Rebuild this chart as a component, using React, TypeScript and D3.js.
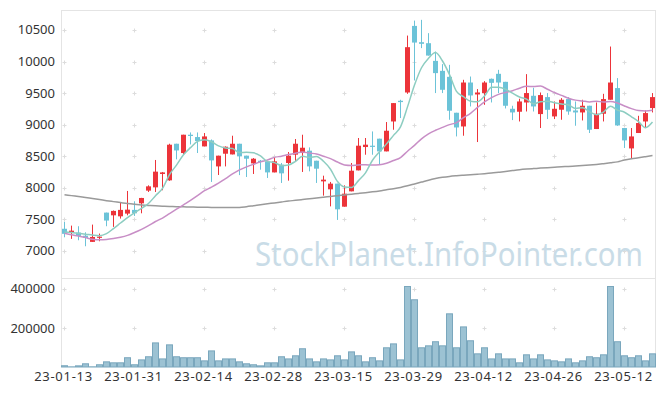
import React, { useEffect, useRef } from 'react';
import * as d3 from 'd3';

// trading days 23-01-13 .. 23-05-18
const dates = [
  '23-01-13', '23-01-16', '23-01-17', '23-01-18', '23-01-19', '23-01-20', '23-01-25', '23-01-26', '23-01-27', '23-01-30',
  '23-01-31', '23-02-01', '23-02-02', '23-02-03', '23-02-06', '23-02-07', '23-02-08', '23-02-09', '23-02-10', '23-02-13',
  '23-02-14', '23-02-15', '23-02-16', '23-02-17', '23-02-20', '23-02-21', '23-02-22', '23-02-23', '23-02-24', '23-02-27',
  '23-02-28', '23-03-02', '23-03-03', '23-03-06', '23-03-07', '23-03-08', '23-03-09', '23-03-10', '23-03-13', '23-03-14',
  '23-03-15', '23-03-16', '23-03-17', '23-03-20', '23-03-21', '23-03-22', '23-03-23', '23-03-24', '23-03-27', '23-03-28',
  '23-03-29', '23-03-30', '23-03-31', '23-04-03', '23-04-04', '23-04-05', '23-04-06', '23-04-07', '23-04-10', '23-04-11',
  '23-04-12', '23-04-13', '23-04-14', '23-04-17', '23-04-18', '23-04-19', '23-04-20', '23-04-21', '23-04-24', '23-04-25',
  '23-04-26', '23-04-27', '23-04-28', '23-05-02', '23-05-03', '23-05-04', '23-05-08', '23-05-09', '23-05-10', '23-05-11',
  '23-05-12', '23-05-15', '23-05-16', '23-05-17', '23-05-18',
];

const open = [
  7350, 7295, 7290, 7240, 7142, 7215, 7606, 7563, 7547, 7590,
  7649, 7753, 7954, 8006, 8218, 8117, 8697, 8550, 8840, 8803,
  8655, 8750, 8338, 8539, 8528, 8697, 8508, 8386, 8428, 8418,
  8243, 8365, 8392, 8524, 8550, 8587, 8428, 8101, 7975, 8065,
  7700, 7943, 8275, 8645, 8666, 8777, 8576, 9050, 9378, 9509,
  10564, 10306, 10290, 10010, 9852, 9757, 9188, 8971, 9667, 9478,
  9500, 9726, 9805, 9678, 9251, 9204, 9351, 9457, 9167, 9436,
  9130, 9236, 9405, 9224, 9193, 9299, 8930, 9172, 9394, 9579,
  8946, 8623, 8867, 9050, 9262,
];
const high = [
  7460, 7400, 7390, 7294, 7416, 7274, 7606, 7640, 7769, 7949,
  7785, 7840, 8038, 8440, 8250, 8697, 8697, 8840, 8876, 8876,
  8867, 8765, 8508, 8655, 8824, 8697, 8508, 8470, 8440, 8418,
  8471, 8392, 8566, 8772, 8840, 8639, 8428, 8191, 8092, 8065,
  8038, 8392, 8788, 8788, 8892, 8777, 9041, 9341, 9394, 10411,
  10648, 10660, 10449, 10158, 9958, 9947, 9188, 9710, 9762, 9563,
  9689, 9730, 9868, 9678, 9299, 9410, 9800, 9584, 9509, 9500,
  9367, 9420, 9436, 9367, 9394, 9299, 9351, 9488, 10237, 9737,
  8946, 8946, 9140, 9225, 9500,
];
const low = [
  7215, 7190, 7168, 7073, 7142, 7152, 7390, 7380, 7511, 7563,
  7553, 7595, 7933, 7933, 7960, 8110, 8450, 8535, 8686, 8550,
  8655, 8092, 8202, 8338, 8528, 8200, 8170, 8218, 8286, 8155,
  8243, 8076, 8112, 8408, 8250, 8260, 8076, 7875, 7705, 7490,
  7700, 7943, 8275, 8523, 8523, 8365, 8576, 8919, 9104, 9488,
  9700, 10212, 10094, 9500, 9500, 9077, 8813, 8824, 9288, 8724,
  9314, 9351, 9500, 9256, 9072, 9050, 9208, 9208, 8946, 9088,
  9088, 9077, 9156, 8982, 9066, 8867, 8930, 9050, 9394, 8980,
  8630, 8460, 8867, 8962, 9193,
];
const close = [
  7270, 7320, 7237, 7205, 7220, 7225, 7480, 7633, 7649, 7653,
  7595, 7838, 8022, 8255, 8243, 8682, 8591, 8840, 8820, 8740,
  8813, 8433, 8508, 8650, 8697, 8497, 8460, 8460, 8408, 8243,
  8418, 8228, 8508, 8697, 8634, 8338, 8302, 8128, 8065, 7658,
  7906, 8270, 8666, 8682, 8650, 8576, 8903, 9341, 9357, 10227,
  10300, 10280, 10094, 9816, 9552, 9220, 8955, 9667, 9462, 9509,
  9667, 9662, 9667, 9299, 9193, 9367, 9500, 9288, 9468, 9235,
  9251, 9394, 9208, 9193, 9299, 8919, 9172, 9405, 9667, 8987,
  8750, 8813, 9025, 9183, 9436,
];
const volume = [
  9000, 3400, 8500, 19000, 3500, 14000, 29000, 24000, 24000, 50000,
  14000, 39000, 55000, 126000, 44000, 116000, 55000, 50000, 50000, 50000,
  34000, 85000, 34000, 44000, 44000, 29000, 19000, 14000, 8500, 24000,
  24000, 55000, 44000, 60000, 96000, 44000, 29000, 44000, 39000, 60000,
  39000, 80000, 60000, 29000, 50000, 34000, 101000, 121000, 39000, 415000,
  347000, 101000, 111000, 132000, 111000, 275000, 101000, 208000, 137000, 70000,
  101000, 44000, 70000, 44000, 44000, 24000, 65000, 44000, 65000, 39000,
  34000, 29000, 44000, 24000, 34000, 55000, 50000, 65000, 415000, 132000,
  60000, 50000, 60000, 34000, 70000,
];

// moving averages
const ma5 = [
  7300, 7290, 7278, 7265, 7250, 7241, 7273, 7353, 7441, 7528,
  7602, 7674, 7751, 7873, 7991, 8208, 8359, 8522, 8635, 8735,
  8761, 8729, 8663, 8629, 8620, 8557, 8562, 8553, 8504, 8414,
  8398, 8351, 8361, 8419, 8497, 8481, 8496, 8420, 8293, 8098,
  8012, 8005, 8113, 8236, 8435, 8569, 8695, 8830, 8965, 9281,
  9626, 9901, 10052, 10143, 10008, 9792, 9527, 9442, 9371, 9363,
  9452, 9593, 9593, 9561, 9498, 9438, 9405, 9329, 9363, 9372,
  9348, 9327, 9311, 9256, 9269, 9203, 9158, 9198, 9292, 9230,
  9196, 9124, 9048, 8952, 9041,
];
const ma20 = [
  7280, 7255, 7235, 7210, 7185, 7175, 7180, 7195, 7215, 7245,
  7290, 7340, 7400, 7465, 7520, 7590, 7660, 7730, 7800, 7876,
  7953, 8009, 8072, 8145, 8218, 8282, 8331, 8372, 8410, 8440,
  8481, 8500, 8525, 8547, 8566, 8549, 8535, 8499, 8461, 8407,
  8362, 8354, 8362, 8363, 8361, 8365, 8387, 8431, 8479, 8578,
  8672, 8774, 8854, 8910, 8956, 9000, 9032, 9109, 9179, 9272,
  9360, 9429, 9479, 9510, 9537, 9577, 9607, 9604, 9610, 9560,
  9508, 9463, 9419, 9388, 9375, 9360, 9371, 9358, 9368, 9342,
  9296, 9254, 9222, 9216, 9228,
];
const ma120 = [
  7890, 7875, 7860, 7845, 7828, 7812, 7795, 7780, 7765, 7750,
  7738, 7728, 7720, 7713, 7708, 7704, 7700, 7697, 7694, 7692,
  7690, 7688, 7687, 7686, 7686, 7688, 7700, 7715, 7730, 7745,
  7760, 7775, 7790, 7800, 7812, 7825, 7838, 7850, 7862, 7874,
  7886, 7898, 7910, 7922, 7935, 7950, 7968, 7985, 8005, 8030,
  8060, 8090, 8120, 8145, 8165, 8180, 8190, 8198, 8206, 8214,
  8222, 8232, 8245, 8258, 8272, 8285, 8295, 8303, 8311, 8318,
  8325, 8332, 8338, 8345, 8352, 8360, 8370, 8382, 8395, 8410,
  8440, 8460, 8475, 8492, 8510,
];

const priceTicks = [7000, 7500, 8000, 8500, 9000, 9500, 10000, 10500];
const volumeTicks = [200000, 400000];

const W = 665;
const H = 396;
const left = 61;
const right = 656;
const top = 10;
const split = 278;
const bottom = 367;

const UP = '#ec343a';
const DOWN = '#6cc3d8';
const FONT = '"Noto Sans", sans-serif';

const App: React.FC = () => {
  const ref = useRef<SVGSVGElement>(null);

  useEffect(() => {
    const svg = d3.select(ref.current);
    svg.selectAll('*').remove();

    const idx = d3.range(dates.length);
    const x = d3.scaleBand<number>().domain(idx).range([left, right]).padding(0);
    const bw = x.bandwidth();
    const cx = (i: number) => (x(i) as number) + bw / 2;

    const y = d3.scaleLinear().domain([6570, 10816]).range([split, top]);
    const yv = d3.scaleLinear().domain([0, 456000]).range([bottom, split]);

    // frame
    const frame = svg.append('g').attr('stroke', '#e4e4e4').attr('fill', 'none');
    frame.append('line').attr('x1', left).attr('x2', right).attr('y1', top + 0.5).attr('y2', top + 0.5);
    frame.append('line').attr('x1', left).attr('x2', right).attr('y1', split + 0.5).attr('y2', split + 0.5);
    frame.append('line').attr('x1', left + 0.5).attr('x2', left + 0.5).attr('y1', top).attr('y2', bottom);
    frame.append('line').attr('x1', right - 0.5).attr('x2', right - 0.5).attr('y1', top).attr('y2', bottom);

    // grid crosses
    const tickIdx = idx.filter(i => i % 10 === 0);
    const crossYs = [...priceTicks.map(v => y(v)), ...volumeTicks.map(v => yv(v))];
    const cross = svg.append('g').attr('stroke', '#dcdcdc').attr('stroke-width', 1);
    tickIdx.forEach(i => {
      crossYs.forEach(cy => {
        const px = Math.round(cx(i)) - 0.5;
        const py = Math.round(cy) + 0.5;
        cross.append('line').attr('x1', px - 2).attr('x2', px + 2).attr('y1', py).attr('y2', py);
        cross.append('line').attr('x1', px).attr('x2', px).attr('y1', py - 2).attr('y2', py + 2);
      });
    });

    // watermark, squeezed horizontally to the reference width
    const wm = svg.append('g');
    const wmText = wm.append('text')
      .attr('x', 0)
      .attr('y', 0)
      .attr('font-family', FONT)
      .attr('font-size', 33)
      .attr('fill', '#c9dce7')
      .text('StockPlanet.InfoPointer.com');
    const natural = (wmText.node() as SVGTextElement).getComputedTextLength() || 388;
    wm.attr('transform', `translate(255,266) scale(${388 / natural},1)`);

    // y axis labels
    const axisText = svg.append('g')
      .attr('font-family', FONT)
      .attr('font-size', 13)
      .attr('fill', '#333');
    priceTicks.forEach(v => {
      axisText.append('text').attr('x', 55).attr('y', y(v)).attr('dy', '0.35em')
        .attr('text-anchor', 'end').text(String(v));
    });
    volumeTicks.forEach(v => {
      axisText.append('text').attr('x', 55).attr('y', yv(v)).attr('dy', '0.35em')
        .attr('text-anchor', 'end').text(String(v));
    });
    tickIdx.forEach(i => {
      axisText.append('text').attr('x', cx(i) - 1).attr('y', 381)
        .attr('text-anchor', 'middle').attr('letter-spacing', 0.7).text(dates[i]);
    });

    // volume bars
    svg.append('g')
      .selectAll('rect')
      .data(idx)
      .enter()
      .append('rect')
      .attr('x', i => (x(i) as number) + 0.5)
      .attr('width', bw - 1)
      .attr('y', i => yv(volume[i]) + 0.5)
      .attr('height', i => Math.max(0, bottom - yv(volume[i]) - 0.5))
      .attr('fill', '#9cc2d3')
      .attr('stroke', '#7aa7bd')
      .attr('stroke-width', 1);

    // candles
    const candles = svg.append('g');
    idx.forEach(i => {
      const col = close[i] >= open[i] ? UP : DOWN;
      candles.append('line')
        .attr('x1', cx(i)).attr('x2', cx(i))
        .attr('y1', y(high[i])).attr('y2', y(low[i]))
        .attr('stroke', col).attr('stroke-width', 1);
      const yTop = y(Math.max(open[i], close[i]));
      const yBot = y(Math.min(open[i], close[i]));
      candles.append('rect')
        .attr('x', cx(i) - 2.5)
        .attr('width', 5)
        .attr('y', yTop)
        .attr('height', Math.max(1.2, yBot - yTop))
        .attr('fill', col);
    });

    // moving averages
    const line = (vals: number[]) =>
      d3.line<number>().x(i => cx(i)).y(i => y(vals[i])).curve(d3.curveMonotoneX)(idx);
    const lines: [number[], string][] = [
      [ma120, '#9a9a9a'],
      [ma20, '#c88ec6'],
      [ma5, '#8dcdc1'],
    ];
    lines.forEach(([vals, col]) => {
      svg.append('path')
        .attr('d', line(vals))
        .attr('fill', 'none')
        .attr('stroke', col)
        .attr('stroke-width', 1.5);
    });
  }, []);

  return (
    <svg
      ref={ref}
      width={W}
      height={H}
      style={{ position: 'absolute', left: 0, top: 0, background: '#fff' }}
    />
  );
};

export default App;
